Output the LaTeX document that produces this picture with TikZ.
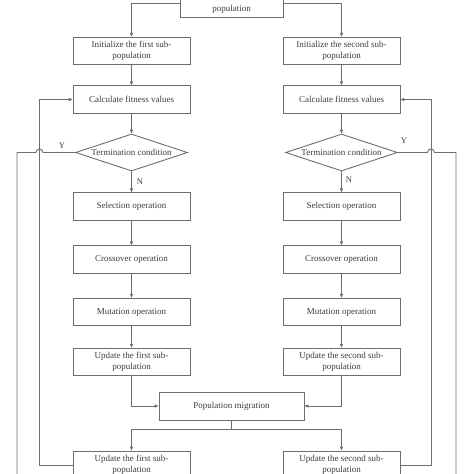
\documentclass[tikz,border=0pt]{standalone}
\usepackage{fontspec}
\setmainfont{Liberation Serif}
\usetikzlibrary{arrows.meta,shapes.geometric}
\definecolor{ln}{HTML}{6E6E6E}
\definecolor{tx}{HTML}{3C3C3C}
\begin{document}
\begin{tikzpicture}[x=1pt,y=1pt,
  every node/.style={font=\fontsize{9}{11}\selectfont, text=tx},
  box/.style={draw=ln, line width=0.9pt, minimum width=117pt, minimum height=27.5pt, inner sep=0pt, align=center},
  dia/.style={draw=ln, line width=0.9pt, shape=diamond, aspect=3, minimum width=112pt, minimum height=37pt, inner sep=0pt, align=center},
  conn/.style={draw=ln, line width=0.9pt},
  arr/.style={conn, -{Triangle[length=4pt,width=3.2pt]}},
  lab/.style={font=\fontsize{8.5}{10}\selectfont}]
\useasboundingbox (0,0) rectangle (474,-474);
\clip (0,0) rectangle (474,-474);
% nodes
\node[box, minimum width=103pt, minimum height=28pt] (top) at (231.5,-3.5) {Initialize initial\\population};
\node[box] (i1) at (131.5,-51) {Initialize the first sub-\\population};
\node[box] (i2) at (341.5,-51) {Initialize the second sub-\\population};
\node[box] (c1) at (131.5,-99.5) {Calculate fitness values};
\node[box] (c2) at (341.5,-99.5) {Calculate fitness values};
\node[dia] (d1) at (131.5,-152.5) {Termination condition};
\node[dia] (d2) at (341.5,-152.5) {Termination condition};
\node[box] (s1) at (131.5,-206.5) {Selection operation};
\node[box] (s2) at (341.5,-206.5) {Selection operation};
\node[box] (x1) at (131.5,-259.5) {Crossover operation};
\node[box] (x2) at (341.5,-259.5) {Crossover operation};
\node[box] (m1) at (131.5,-312) {Mutation operation};
\node[box] (m2) at (341.5,-312) {Mutation operation};
\node[box] (u1) at (131.5,-362) {Update the first sub-\\population};
\node[box] (u2) at (341.5,-362) {Update the second sub-\\population};
\node[box, minimum width=145pt, minimum height=28pt] (mig) at (231.5,-406) {Population migration};
\node[box, minimum height=28pt] (b1) at (131.5,-465) {Update the first sub-\\population};
\node[box, minimum height=28pt] (b2) at (341.5,-465) {Update the second sub-\\population};
% labels
\node[lab] (y1) at (62,-146) {Y};
\node[lab] (y2) at (404,-141) {Y};
\node[lab] (n1) at (140,-182) {N};
\node[lab] (n2) at (349,-180) {N};
% coordinates
\coordinate (sp) at (231.5,-429);
\coordinate (l1) at (39.5,-300);
\coordinate (l2) at (431,-300);
\coordinate (o1) at (17,-480);
\coordinate (o2) at (456,-480);
% connectors
\draw[arr] (top.west) -| (i1.north);
\draw[arr] (top.east) -| (i2.north);
\draw[arr] (i1) -- (c1);
\draw[arr] (i2) -- (c2);
\draw[arr] (c1) -- (d1);
\draw[arr] (c2) -- (d2);
\draw[arr] (d1) -- (s1);
\draw[arr] (d2) -- (s2);
\draw[arr] (s1) -- (x1);
\draw[arr] (s2) -- (x2);
\draw[arr] (x1) -- (m1);
\draw[arr] (x2) -- (m2);
\draw[arr] (m1) -- (u1);
\draw[arr] (m2) -- (u2);
\draw[arr] (u1.south) |- (mig.west);
\draw[arr] (u2.south) |- (mig.east);
\draw[conn] (mig.south) -- (sp);
\draw[arr] (sp) -| (b1.north);
\draw[arr] (sp) -| (b2.north);
% inner loops
\draw[arr] (b1.west) -- (b1.west -| l1) -- (c1.west -| l1) -- (c1.west);
\draw[arr] (b2.east) -- (b2.east -| l2) -- (c2.east -| l2) -- (c2.east);
% Y exits with hops
\draw[conn] (d1.west) -- (43,-152.5) arc[start angle=0,end angle=180,radius=3.5] -- (d1.west -| o1) -- (o1);
\draw[conn] (d2.east) -- (427.5,-152.5) arc[start angle=180,end angle=0,radius=3.5] -- (d2.east -| o2) -- (o2);
\end{tikzpicture}
\end{document}
